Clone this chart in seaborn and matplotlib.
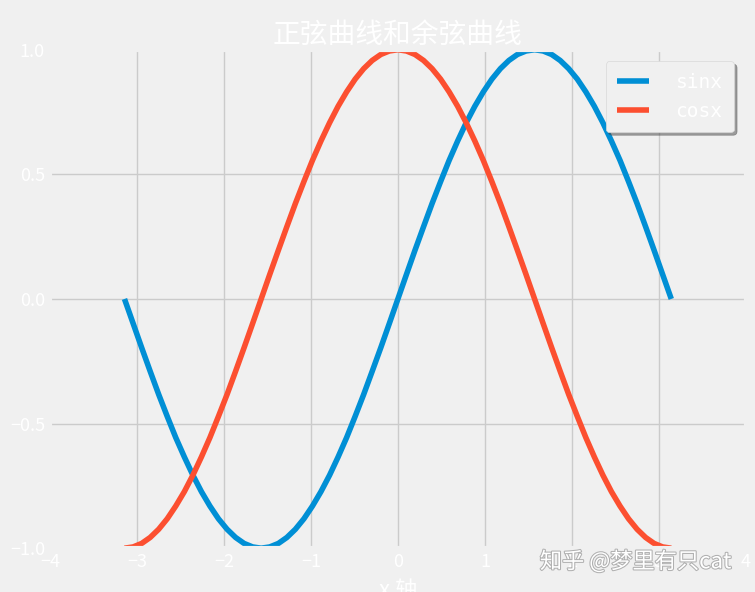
import matplotlib
matplotlib.use('Agg')
import matplotlib.pyplot as plt
import matplotlib.patheffects as pe
import seaborn as sns
import pandas as pd

# 数据
x_vals = [-3.142, -3.043, -2.945, -2.847, -2.749, -2.651, -2.553, -2.454, -2.356, -2.258,
          -2.160, -2.062, -1.963, -1.865, -1.767, -1.669, -1.571, -1.473, -1.374, -1.276,
          -1.178, -1.080, -0.982, -0.884, -0.785, -0.687, -0.589, -0.491, -0.393, -0.295,
          -0.196, -0.098, 0.000, 0.098, 0.196, 0.295, 0.393, 0.491, 0.589, 0.687,
          0.785, 0.884, 0.982, 1.080, 1.178, 1.276, 1.374, 1.473, 1.571, 1.669,
          1.767, 1.865, 1.963, 2.062, 2.160, 2.258, 2.356, 2.454, 2.553, 2.651,
          2.749, 2.847, 2.945, 3.043, 3.142]
sin_vals = [0.000, -0.098, -0.195, -0.290, -0.383, -0.471, -0.556, -0.634, -0.707, -0.773,
            -0.831, -0.882, -0.924, -0.957, -0.981, -0.995, -1.000, -0.995, -0.981, -0.957,
            -0.924, -0.882, -0.831, -0.773, -0.707, -0.634, -0.556, -0.471, -0.383, -0.290,
            -0.195, -0.098, 0.000, 0.098, 0.195, 0.290, 0.383, 0.471, 0.556, 0.634,
            0.707, 0.773, 0.831, 0.882, 0.924, 0.957, 0.981, 0.995, 1.000, 0.995,
            0.981, 0.957, 0.924, 0.882, 0.831, 0.773, 0.707, 0.634, 0.556, 0.471,
            0.383, 0.290, 0.195, 0.098, 0.000]
cos_vals = [-1.000, -0.995, -0.981, -0.957, -0.924, -0.882, -0.831, -0.773, -0.707, -0.634,
            -0.556, -0.471, -0.383, -0.290, -0.195, -0.098, 0.000, 0.098, 0.195, 0.290,
            0.383, 0.471, 0.556, 0.634, 0.707, 0.773, 0.831, 0.882, 0.924, 0.957,
            0.981, 0.995, 1.000, 0.995, 0.981, 0.957, 0.924, 0.882, 0.831, 0.773,
            0.707, 0.634, 0.556, 0.471, 0.383, 0.290, 0.195, 0.098, 0.000, -0.098,
            -0.195, -0.290, -0.383, -0.471, -0.556, -0.634, -0.707, -0.773, -0.831, -0.882,
            -0.924, -0.957, -0.981, -0.995, -1.000]
series_names = ['sinx', 'cosx']
colors = ['#008fd5', '#fc4f30']

df = pd.concat([
    pd.DataFrame({'x': x_vals, 'y': sin_vals, 'name': series_names[0]}),
    pd.DataFrame({'x': x_vals, 'y': cos_vals, 'name': series_names[1]}),
])

plt.style.use('fivethirtyeight')
plt.rcParams['font.family'] = ['Noto Sans CJK SC', 'DejaVu Sans']
plt.rcParams['axes.unicode_minus'] = True

fig = plt.figure(figsize=(7.55, 5.92), dpi=100, facecolor='#f0f0f0')
ax = fig.add_axes([0.066, 0.074, 0.922, 0.842])

sns.lineplot(data=df, x='x', y='y', hue='name', palette=colors, sort=False,
             linewidth=4, ax=ax)

ax.set_xlim(-4, 4)
ax.set_ylim(-1, 1)
ax.set_yticks([-1.0, -0.5, 0.0, 0.5, 1.0])
ax.tick_params(colors='white', labelsize=13)
ax.set_title('正弦曲线和余弦曲线', color='white', fontsize=20, pad=2)
ax.set_xlabel('x 轴', color='white', fontsize=16, labelpad=6)
ax.set_ylabel('')

leg = ax.legend(loc='upper right', shadow=True,
                prop={'family': 'DejaVu Sans Mono', 'size': 14},
                facecolor='#f0f0f0', edgecolor='#d8d8d8', framealpha=1,
                borderpad=0.6, handlelength=1.65, handletextpad=1.35,
                borderaxespad=0.6)
for t in leg.get_texts():
    t.set_color('white')

fig.text(0.715, 0.04, '知乎 @梦里有只cat', color='white', fontsize=16,
         path_effects=[pe.withStroke(linewidth=1.5, foreground='#b0b0b0')])

fig.savefig('out.png', dpi=100, facecolor=fig.get_facecolor())
